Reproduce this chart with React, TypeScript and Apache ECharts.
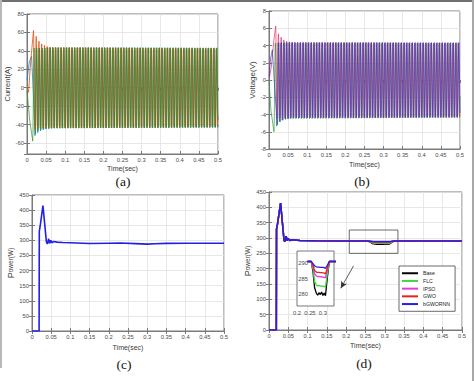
import { useEffect, useRef } from "react";
import * as echarts from "echarts";

const FONT = '"Liberation Sans", Arial, Helvetica, sans-serif';
const SERIF = '"Liberation Serif", "Times New Roman", serif';
const AXIS_C = "#7a7a7a";
const GRID_C = "#e2e2e2";
const LABEL_C = "#4a4a4a";
const NAME_C = "#3a3a3a";

const T_END = 0.5;
const X_STEP = 0.05;
const WAVE_FREQ_HZ = 140;
const SAMPLES_PER_CYCLE = 12;

// ---------- (a) Current, three phases ----------
const CUR_ORANGE_T = [0, 0.004, 0.01, 0.017];
const CUR_ORANGE_V = [0, -5, 30, 62];
const CUR_ORANGE_ENV_T = [0.017, 0.025, 0.032, 0.04, 0.05, 0.06, 0.08, 0.5];
const CUR_ORANGE_UP = [62, 55, 50, 47, 45, 44, 43.5, 43.5];
const CUR_ORANGE_LO = [-45, -45, -44, -44, -43.5, -43.5, -43.5, -43.5];

const CUR_BLUE_T = [0, 0.006, 0.012, 0.017, 0.021];
const CUR_BLUE_V = [8, 28, 34, -10, -52];
const CUR_BLUE_ENV_T = [0.021, 0.03, 0.04, 0.05, 0.07, 0.5];
const CUR_BLUE_UP = [43, 43, 43, 43, 43.5, 43.5];
const CUR_BLUE_LO = [-52, -48, -46, -45, -44, -43.5];

const CUR_GREEN_T = [0, 0.007, 0.015];
const CUR_GREEN_V = [-3, -35, -58];
const CUR_GREEN_ENV_T = [0.015, 0.025, 0.04, 0.06, 0.5];
const CUR_GREEN_UP = [43, 43, 43, 43.5, 43.5];
const CUR_GREEN_LO = [-58, -47, -45, -44, -43.5];

// ---------- (b) Voltage, three phases ----------
const VOL_RED_T = [0, 0.006, 0.0125, 0.0175];
const VOL_RED_V = [0, 1.5, 4.5, 6.26];
const VOL_RED_ENV_T = [0.0175, 0.025, 0.033, 0.04, 0.05, 0.07, 0.5];
const VOL_RED_UP = [6.26, 5.3, 4.9, 4.6, 4.45, 4.35, 4.35];
const VOL_RED_LO = [-4.5, -4.45, -4.4, -4.4, -4.35, -4.35, -4.35];

const VOL_BLUE_T = [0, 0.004, 0.0088, 0.015, 0.022];
const VOL_BLUE_V = [0.3, 2.5, 3.5, -1, -5.2];
const VOL_BLUE_ENV_T = [0.022, 0.03, 0.04, 0.06, 0.5];
const VOL_BLUE_UP = [4.35, 4.35, 4.35, 4.35, 4.35];
const VOL_BLUE_LO = [-5.2, -4.8, -4.6, -4.4, -4.35];

const VOL_GREEN_T = [0, 0.005, 0.013];
const VOL_GREEN_V = [0, -3.5, -6.0];
const VOL_GREEN_ENV_T = [0.013, 0.025, 0.04, 0.5];
const VOL_GREEN_UP = [4.3, 4.3, 4.3, 4.3];
const VOL_GREEN_LO = [-6.0, -4.9, -4.5, -4.35];

// ---------- (c) Power ----------
const POW_C_T = [0, 0.0185, 0.019, 0.021, 0.0285, 0.0375, 0.04, 0.0435, 0.046, 0.049, 0.052, 0.056, 0.065, 0.08, 0.1, 0.15, 0.2, 0.23, 0.27, 0.3, 0.32, 0.35, 0.4, 0.5];
const POW_C_P = [0, 0, 330, 345, 415, 295, 288, 305, 290, 300, 292, 296, 294, 293, 292, 289.5, 290.5, 291, 289, 287.5, 288.5, 290, 290.5, 290.5];

// ---------- (d) Power comparison ----------
const POW_D_PRE_T = [0, 0.019, 0.0195, 0.022, 0.03, 0.039, 0.041, 0.0445, 0.047, 0.05, 0.054, 0.06, 0.08, 0.12, 0.18, 0.22, 0.24];
const POW_D_PRE_P = [0, 0, 330, 345, 414, 292, 288, 306, 291, 298, 292, 294, 292, 291, 290.5, 290.5, 290.5];
const DIP_T = [0.255, 0.262, 0.268, 0.275, 0.28, 0.285, 0.29, 0.295, 0.3, 0.305, 0.31, 0.317, 0.325];
const DIP_BASE = [290.5, 287, 282, 280.2, 279.6, 280.4, 279.8, 280.6, 279.5, 280.3, 279.4, 285, 290.5];
const DIP_FLC = [290.5, 288, 284, 282.8, 282.6, 282.8, 282.5, 282.6, 282.4, 282.5, 282.2, 286.3, 290.5];
const DIP_IPSO = [290.5, 288.8, 286.5, 285.8, 285.6, 285.7, 285.5, 285.6, 285.4, 285.4, 285.2, 287.8, 290.5];
const DIP_GWO = [290.5, 289.3, 287.6, 287.1, 287.0, 287.0, 286.9, 286.9, 286.8, 286.8, 286.5, 288.4, 290.5];
const DIP_BGWO = [290.5, 289.8, 289.1, 288.8, 288.7, 288.7, 288.6, 288.6, 288.6, 288.5, 288.3, 289.3, 290.5];
const POW_D_POST_T = [0.34, 0.4, 0.5];
const POW_D_POST_P = [290.5, 290.5, 290.5];

const METHODS = ["Base", "FLC", "IPSO", "GWO", "bGWORNN"];
const METHOD_COLORS = ["#000000", "#3fd83f", "#e03ce0", "#e82020", "#2020e8"];
const METHOD_DIPS = [DIP_BASE, DIP_FLC, DIP_IPSO, DIP_GWO, DIP_BGWO];

const ZOOM_BOX_T = [0.208, 0.334];
const ZOOM_BOX_P = [250, 326];
const ARROW_T = [0.219, 0.186];
const ARROW_P = [209, 136];
const INSET_T = [0.2, 0.343];
const INSET_P = [276.1, 293.9];

// layout
const GRIDS = [
  { left: 27, top: 14, width: 191, height: 140 },
  { left: 269, top: 11, width: 191, height: 138 },
  { left: 32, top: 195, width: 192, height: 136 },
  { left: 269, top: 192, width: 193, height: 138 },
];
const INSET_GRID = { left: 297, top: 251, width: 37, height: 55 };
const Y_RANGES = [
  { min: -72, max: 80, step: 20 },
  { min: -8, max: 8, step: 2 },
  { min: 0, max: 450, step: 50 },
  { min: 0, max: 450, step: 50 },
];
const X_NAME_GAP = [11, 12, 13, 12];
const Y_NAME_GAP = [7, 6, 7, 9.5];

function interp(ts: number[], vs: number[], t: number): number {
  if (t <= ts[0]) return vs[0];
  for (let i = 1; i < ts.length; i++) {
    if (t <= ts[i]) {
      const f = (t - ts[i - 1]) / (ts[i] - ts[i - 1]);
      return vs[i - 1] + f * (vs[i] - vs[i - 1]);
    }
  }
  return vs[vs.length - 1];
}

function buildPhase(trT: number[], trV: number[], envT: number[], up: number[], lo: number[], startAtPeak: boolean) {
  const pts: number[][] = trT.map((t, i) => [t, trV[i]]);
  const t0 = trT[trT.length - 1];
  const n = Math.round((T_END - t0) * WAVE_FREQ_HZ * SAMPLES_PER_CYCLE);
  for (let k = 1; k <= n; k++) {
    const t = t0 + (k * (T_END - t0)) / n;
    const c = Math.cos(2 * Math.PI * WAVE_FREQ_HZ * (t - t0) + (startAtPeak ? 0 : Math.PI));
    const v = c >= 0 ? c * interp(envT, up, t) : -c * interp(envT, lo, t);
    pts.push([t, v]);
  }
  return pts;
}

function zip(ts: number[], vs: number[]) {
  return ts.map((t, i) => [t, vs[i]]);
}

const fmtX = (v: number) => String(+v.toFixed(2));
const fmtStep = (step: number) => (v: number) =>
  Math.abs(v / step - Math.round(v / step)) < 1e-6 ? String(+v.toFixed(2)) : "";

export default function App() {
  const ref = useRef<HTMLDivElement>(null);
  useEffect(() => {
    if (!ref.current) return;
    const chart = echarts.init(ref.current, undefined, { renderer: "svg" });

    const grid: any[] = GRIDS.map((g) => ({ ...g, show: true, borderColor: AXIS_C, borderWidth: 1, backgroundColor: "transparent" }));
    grid.push({ ...INSET_GRID, show: true, borderColor: "#555", borderWidth: 0.8, backgroundColor: "#fff", z: 3 });

    const xAxis: any[] = [];
    const yAxis: any[] = [];
    GRIDS.forEach((_, i) => {
      xAxis.push({
        type: "value", gridIndex: i, min: 0, max: T_END, interval: X_STEP, position: "bottom",
        axisLine: { show: true, onZero: false, lineStyle: { color: AXIS_C, width: 1 } },
        axisTick: { show: true, inside: true, length: 3, lineStyle: { color: AXIS_C } },
        splitLine: { show: true, lineStyle: { color: GRID_C, width: 0.8 } },
        axisLabel: { fontSize: 5.8, color: LABEL_C, fontFamily: FONT, margin: 3, formatter: fmtX },
        name: "Time(sec)", nameLocation: "middle", nameGap: X_NAME_GAP[i],
        nameTextStyle: { fontSize: 7, color: NAME_C, fontFamily: FONT },
      });
    });
    GRIDS.forEach((_, i) => {
      xAxis.push({
        type: "value", gridIndex: i, min: 0, max: T_END, interval: X_STEP, position: "top",
        axisLine: { show: false }, axisLabel: { show: false }, splitLine: { show: false },
        axisTick: { show: true, inside: true, length: 3, lineStyle: { color: AXIS_C } },
      });
    });
    xAxis.push({
      type: "value", gridIndex: 4, min: INSET_T[0], max: INSET_T[1], interval: X_STEP, z: 4,
      axisLine: { show: false }, axisTick: { show: false }, splitLine: { show: false },
      axisLabel: { fontSize: 5.8, color: LABEL_C, fontFamily: FONT, margin: 4, formatter: fmtStep(X_STEP) },
    });

    const powerName = {
      fontFamily: FONT, color: NAME_C,
      rich: { p: { fontSize: 9, fontFamily: FONT, color: NAME_C }, o: { fontSize: 6.5, fontFamily: FONT, color: NAME_C } },
    };
    const yNames: any[] = [
      { name: "Current(A)", style: { fontSize: 7.5, color: NAME_C, fontFamily: FONT } },
      { name: "Voltage(V)", style: { fontSize: 8, color: NAME_C, fontFamily: FONT } },
      { name: "{p|P}{o|ower(W)}", style: powerName },
      { name: "{p|P}{o|ower(W)}", style: powerName },
    ];
    GRIDS.forEach((_, i) => {
      const r = Y_RANGES[i];
      yAxis.push({
        type: "value", gridIndex: i, min: r.min, max: r.max, minInterval: r.step, maxInterval: r.step, position: "left",
        axisLine: { show: true, onZero: false, lineStyle: { color: AXIS_C, width: 1 } },
        axisTick: { show: true, inside: true, length: 3, lineStyle: { color: AXIS_C } },
        splitLine: { show: true, lineStyle: { color: GRID_C, width: 0.8 } },
        axisLabel: { fontSize: 5.8, color: LABEL_C, fontFamily: FONT, margin: 3, formatter: fmtStep(r.step) },
        name: yNames[i].name, nameLocation: "middle", nameGap: Y_NAME_GAP[i], nameTextStyle: yNames[i].style,
      });
    });
    GRIDS.forEach((_, i) => {
      const r = Y_RANGES[i];
      yAxis.push({
        type: "value", gridIndex: i, min: r.min, max: r.max, minInterval: r.step, maxInterval: r.step, position: "right",
        axisLine: { show: false }, axisLabel: { show: false }, splitLine: { show: false },
        axisTick: { show: true, inside: true, length: 3, lineStyle: { color: AXIS_C } },
      });
    });
    yAxis.push({
      type: "value", gridIndex: 4, min: INSET_P[0], max: INSET_P[1], minInterval: 5, maxInterval: 5, z: 4,
      axisLine: { show: false }, axisTick: { show: false }, splitLine: { show: false },
      axisLabel: { inside: true, align: "right", margin: 11, fontSize: 5.8, color: LABEL_C, fontFamily: FONT, formatter: fmtStep(5) },
    });

    const wave = (data: number[][], color: string, gi: number, opacity = 1, width = 0.9) => ({
      type: "line", xAxisIndex: gi, yAxisIndex: gi, data, showSymbol: false, symbol: "none", silent: true,
      lineStyle: { width, color, opacity }, itemStyle: { color },
    });

    const series: any[] = [
      wave(buildPhase(CUR_BLUE_T, CUR_BLUE_V, CUR_BLUE_ENV_T, CUR_BLUE_UP, CUR_BLUE_LO, false), "#1f7fc8", 0, 1, 0.8),
      wave(buildPhase(CUR_ORANGE_T, CUR_ORANGE_V, CUR_ORANGE_ENV_T, CUR_ORANGE_UP, CUR_ORANGE_LO, true), "#D95319", 0, 1, 0.8),
      wave(buildPhase(CUR_GREEN_T, CUR_GREEN_V, CUR_GREEN_ENV_T, CUR_GREEN_UP, CUR_GREEN_LO, false), "#2E8B1E", 0, 0.85, 0.8),
      wave(buildPhase(VOL_GREEN_T, VOL_GREEN_V, VOL_GREEN_ENV_T, VOL_GREEN_UP, VOL_GREEN_LO, false), "#2e9a40", 1, 0.7, 1),
      wave(buildPhase(VOL_RED_T, VOL_RED_V, VOL_RED_ENV_T, VOL_RED_UP, VOL_RED_LO, true), "#e2336a", 1, 0.7, 1),
      wave(buildPhase(VOL_BLUE_T, VOL_BLUE_V, VOL_BLUE_ENV_T, VOL_BLUE_UP, VOL_BLUE_LO, false), "#3535c8", 1, 0.65, 1),
      {
        type: "line", xAxisIndex: 2, yAxisIndex: 2, data: zip(POW_C_T, POW_C_P), showSymbol: false, symbol: "none", silent: true,
        lineStyle: { width: 1.6, color: "#2020e8" }, itemStyle: { color: "#2020e8" },
      },
    ];

    METHODS.forEach((m, k) => {
      const full = [...zip(POW_D_PRE_T, POW_D_PRE_P), ...zip(DIP_T, METHOD_DIPS[k]), ...zip(POW_D_POST_T, POW_D_POST_P)];
      const s: any = {
        type: "line", name: m, xAxisIndex: 3, yAxisIndex: 3, data: full, showSymbol: false, symbol: "none", silent: true,
        lineStyle: { width: 1.5, color: METHOD_COLORS[k] }, itemStyle: { color: METHOD_COLORS[k] },
      };
      if (k === 0) {
        s.markArea = {
          silent: true,
          itemStyle: { color: "rgba(0,0,0,0)", borderColor: "#444", borderWidth: 0.8 },
          data: [[{ coord: [ZOOM_BOX_T[0], ZOOM_BOX_P[0]] }, { coord: [ZOOM_BOX_T[1], ZOOM_BOX_P[1]] }]],
        };
        s.markLine = {
          silent: true, symbol: ["none", "arrow"], symbolSize: [5, 7],
          lineStyle: { color: "#333", width: 0.8, type: "solid" }, label: { show: false },
          data: [[{ coord: [ARROW_T[0], ARROW_P[0]] }, { coord: [ARROW_T[1], ARROW_P[1]] }]],
        };
      }
      series.push(s);
    });
    METHODS.forEach((m, k) => {
      const last = POW_D_PRE_T.length - 1;
      const part = [[POW_D_PRE_T[last], POW_D_PRE_P[last]], ...zip(DIP_T, METHOD_DIPS[k]), ...zip(POW_D_POST_T, POW_D_POST_P)];
      series.push({
        type: "line", name: m, xAxisIndex: 8, yAxisIndex: 8, data: part, showSymbol: false, symbol: "none", silent: true, z: 5,
        lineStyle: { width: 1.3, color: METHOD_COLORS[k] }, itemStyle: { color: METHOD_COLORS[k] },
      });
    });

    const panelLabel = (text: string, x: number, y: number) => ({
      type: "text", x, y, silent: true,
      style: { text, fill: "#111", font: `13.5px ${SERIF}`, textAlign: "center", textVerticalAlign: "middle" },
    });

    chart.setOption({
      animation: false,
      backgroundColor: "#ffffff",
      grid, xAxis, yAxis, series,
      legend: {
        data: METHODS, orient: "vertical", left: 399, top: 266,
        itemWidth: 16, itemHeight: 2, itemGap: 1.2, icon: "rect",
        textStyle: { fontSize: 5.2, fontFamily: FONT, color: "#222", lineHeight: 6.5 },
        borderColor: "#444", borderWidth: 0.8, padding: [4, 5, 4, 3], backgroundColor: "#fff",
        selectedMode: false,
      },
      graphic: [
        { type: "rect", shape: { x: 0, y: 0, width: 474, height: 2 }, style: { fill: "#707070" }, silent: true },
        { type: "rect", shape: { x: 0, y: 0, width: 2, height: 368 }, style: { fill: "#b8b8b8" }, silent: true },
        { type: "rect", shape: { x: 472, y: 0, width: 2, height: 381 }, style: { fill: "#a8a8a8" }, silent: true },
        panelLabel("(a)", 123, 181),
        panelLabel("(b)", 362, 181),
        panelLabel("(c)", 124, 364),
        panelLabel("(d)", 364, 363),
      ],
    });
    return () => chart.dispose();
  }, []);
  return <div ref={ref} style={{ position: "fixed", left: 0, top: 0, width: 474, height: 381, background: "#fff" }} />;
}
